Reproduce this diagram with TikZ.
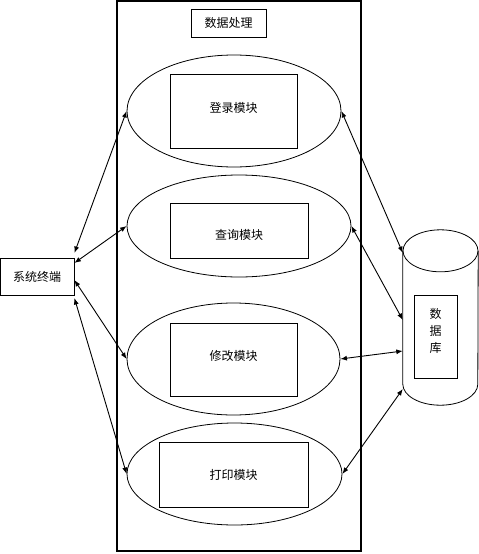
\documentclass[tikz,border=0pt]{standalone}
\usepackage{fontspec}
\usepackage{tikz}
\usetikzlibrary{arrows.meta,positioning,shapes.geometric}
\newfontfamily\cjk{Noto Sans CJK SC}

\begin{document}
\begin{tikzpicture}[x=1pt, y=1pt,
  every node/.style={font=\cjk\fontsize{12}{17}\selectfont, inner sep=0pt},
  box/.style={draw, line width=0.8pt},
  oval/.style={draw, ellipse, line width=0.8pt},
  link/.style={{Latex[length=6.5pt,width=5pt]}-{Latex[length=6.5pt,width=5pt]}, line width=0.9pt}]
  \useasboundingbox (0,0) rectangle (479,-554);

  % outer block and its title
  \node[box, line width=1.1pt, minimum width=244pt, minimum height=550pt] (proc) at (239,-276) {};
  \node[box, minimum width=75pt, minimum height=28pt] (title) at (228.5,-23) {数据处理};

  % modules
  \node[oval, minimum width=214pt, minimum height=112pt] (e1) at (234,-111) {};
  \node[oval, minimum width=224pt, minimum height=102pt] (e2) at (239,-226) {};
  \node[oval, minimum width=213pt, minimum height=112pt] (e3) at (233.5,-359) {};
  \node[oval, minimum width=215pt, minimum height=102pt] (e4) at (234.5,-474) {};
  \node[box, minimum width=127pt, minimum height=74pt] (m1) at (233.5,-111) {};
  \node[box, minimum width=138pt, minimum height=55pt] (m2) at (239,-230.5) {};
  \node[box, minimum width=127pt, minimum height=73pt] (m3) at (233.5,-359.5) {};
  \node[box, minimum width=149pt, minimum height=65pt] (m4) at (233.5,-474.5) {};
  \node at ([yshift=3pt]m1.center) {登录模块};
  \node at ([yshift=-4pt]m2.center) {查询模块};
  \node at ([yshift=4pt]m3.center) {修改模块};
  \node at (m4.center) {打印模块};

  % terminal and database
  \node[box, minimum width=74pt, minimum height=37pt] (term) at (37,-276.5) {系统终端};
  \node[minimum width=75pt, minimum height=175pt] (db) at (440.5,-317.5) {};
  \draw[line width=0.8pt] ([yshift=-21pt]db.north) ellipse [x radius=37.5pt, y radius=21pt];
  \draw[line width=0.8pt] ([yshift=-21pt]db.north west) -- ([yshift=21pt]db.south west)
    arc[start angle=180, end angle=360, x radius=37.5pt, y radius=21pt] -- ([yshift=-21pt]db.north east);
  \node[box, minimum width=43pt, minimum height=83pt] (dbtxt) at (435.5,-336.5) {};
  \node[align=center] at ([yshift=6pt]dbtxt.center) {数\\据\\库};

  \draw[link] ([yshift=23.5pt]term.east) -- (e1.west);
  \draw[link] ([yshift=13.5pt]term.east) -- (e2.west);
  \draw[link] ([yshift=-3.5pt]term.east) -- (e3.west);
  \draw[link] ([yshift=-21.5pt]term.east) -- (e4.west);

  \draw[link] (e1.east) -- ([yshift=64.5pt]db.west);
  \draw[link] (e2.east) -- ([yshift=-2.5pt]db.west);
  \draw[link] (e3.east) -- ([yshift=-33.5pt]db.west);
  \draw[link] (e4.east) -- ([yshift=-71.5pt]db.west);
\end{tikzpicture}
\end{document}
